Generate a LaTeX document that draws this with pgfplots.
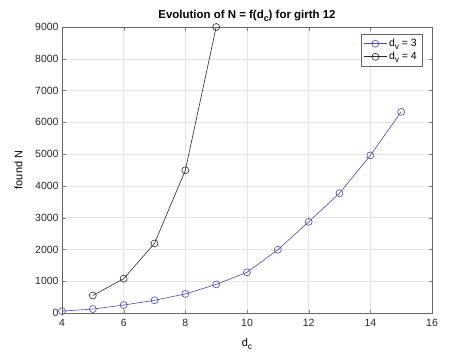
\documentclass[border=0pt]{standalone}
\usepackage{pgfplots}
\pgfplotsset{compat=1.18}
\usepackage{fontspec}
\setmainfont{Liberation Sans}
\definecolor{bl}{RGB}{70,70,190}
\definecolor{dk}{RGB}{40,40,40}
\newcommand{\sub}[1]{\raisebox{-0.55ex}{\fontsize{8.5}{8}\selectfont #1}}
\newcommand{\bsub}[1]{\raisebox{-0.55ex}{\fontsize{9}{8}\selectfont\bfseries #1}}
\begin{document}
\begin{tikzpicture}
\useasboundingbox (-62bp,-42bp) rectangle (412bp,313bp);
\begin{axis}[
  scale only axis, width=370bp, height=286bp,
  xmin=4, xmax=16, ymin=0, ymax=9000,
  xtick={4,6,...,16}, ytick={0,1000,...,9000},
  scaled y ticks=false,
  /pgf/number format/assume math mode=true,
  /pgf/number format/1000 sep={},
  tick label style={font=\fontsize{10.5}{12}\selectfont, color=black!85},
  xticklabel style={yshift=-3bp},
  tick align=inside, major tick length=3.5bp,
  grid=major, grid style={gray!20, line width=0.5pt},
  axis line style={black!60},
  title={\fontsize{11.5}{12}\selectfont\bfseries Evolution of N = f(d\bsub{c}) for girth 12},
  title style={yshift=-4bp},
  xlabel={\fontsize{11}{12}\selectfont d\sub{c}},
  ylabel={\fontsize{11}{12}\selectfont found N},
  xlabel style={yshift=-5bp},
  ylabel style={yshift=6bp},
  legend style={at={(1,1)}, anchor=north east, xshift=-10bp, yshift=-7bp,
    font=\fontsize{10.5}{12}\selectfont, draw=black!60, inner sep=3bp,
    row sep=0bp},
  legend image code/.code={\draw[#1] (0cm,0cm) -- (0.8cm,0cm); \draw[#1, only marks] plot coordinates {(0.4cm,0cm)};},
  legend cell align=left,
  every axis plot/.append style={line width=0.6pt},
]
\addplot[color=bl, mark=o, mark size=3.5bp] coordinates {
(4,60) (5,125) (6,250) (7,400) (8,600) (9,900) (10,1280) (11,1990) (12,2870) (13,3770) (14,4960) (15,6330)};
\addlegendentry{d\sub{v} = 3}
\addplot[color=dk, mark=o, mark size=3.5bp] coordinates {
(5,550) (6,1080) (7,2190) (8,4490) (9,9000)};
\addlegendentry{d\sub{v} = 4}
\end{axis}
\end{tikzpicture}
\end{document}
